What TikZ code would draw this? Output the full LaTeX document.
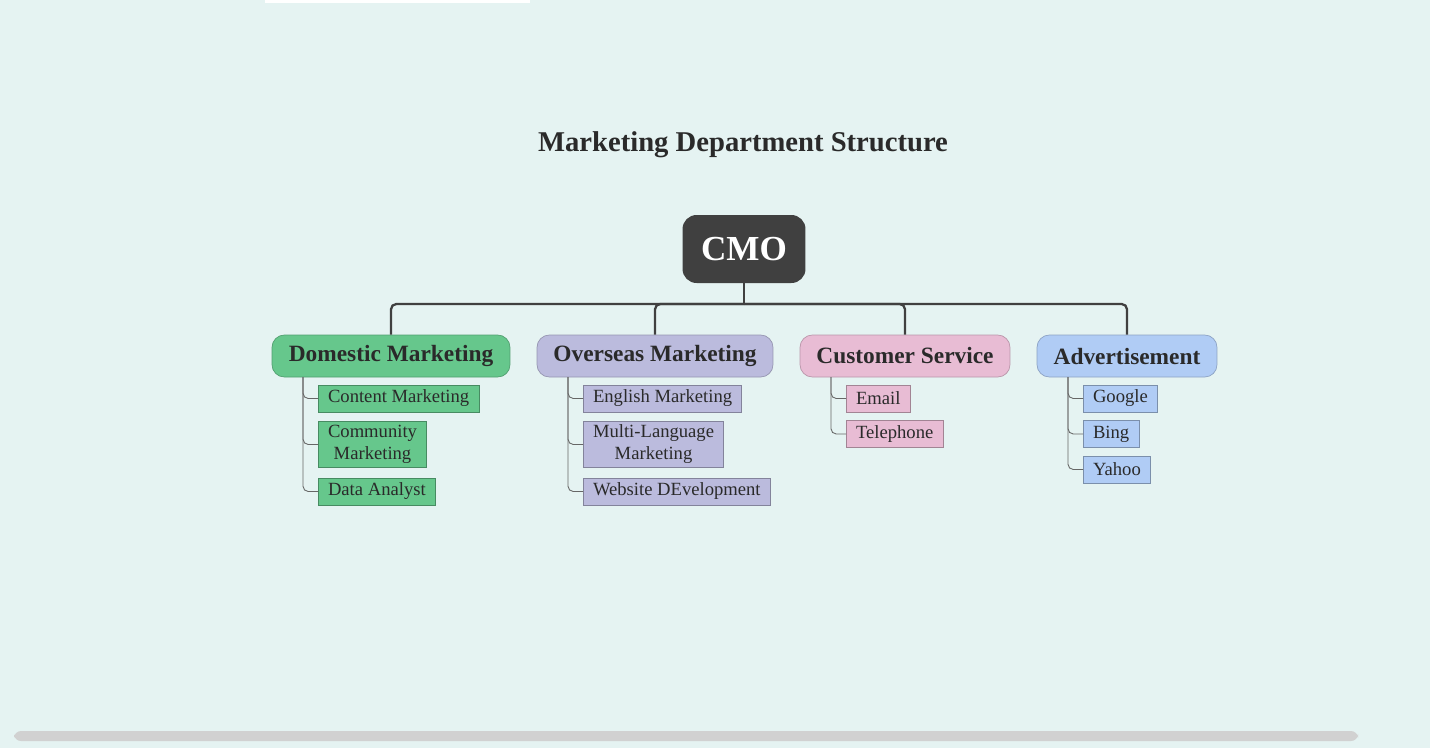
\documentclass[tikz,border=0pt]{standalone}
\usepackage{fontspec}
\setmainfont{Liberation Serif}
\definecolor{bgteal}{HTML}{E5F3F2}
\definecolor{cmogray}{HTML}{404040}
\definecolor{inkgray}{HTML}{2A2A2A}
\definecolor{domgreen}{HTML}{66C78C}
\definecolor{ovslav}{HTML}{BBBBDD}
\definecolor{cuspink}{HTML}{E8BCD4}
\definecolor{advblue}{HTML}{B0CCF5}
\tikzset{
  head/.style={draw=#1!80!black,fill=#1,rounded corners=7pt,font=\fontsize{13.3}{15}\selectfont\bfseries,
    minimum height=0.84cm,inner xsep=8pt,text=inkgray},
  leaf/.style={draw=#1!70!black,fill=#1,anchor=west,font=\fontsize{10.6}{12.5}\selectfont,align=center,
    minimum height=0.54cm,inner xsep=5.5pt,inner ysep=2pt,text=inkgray},
  trunk/.style={draw=cmogray,line width=1.3pt,rounded corners=3pt},
  twig/.style={draw=black!60,line width=0.5pt,rounded corners=3pt}
}
\begin{document}
\begin{tikzpicture}[x=0.02cm,y=-0.02cm]
    \useasboundingbox (0,0) rectangle (1430,748);
    \fill[bgteal] (0,0) rectangle (1430,748);
    \fill[white] (265,0) rectangle (530,3);
    \fill[black!18,rounded corners=4pt] (14,731) rectangle (1358,741);
    \node[text=inkgray] (title) at (743,145) {\fontsize{16.3}{19}\selectfont\bfseries Marketing Department Structure};
    \node[fill=cmogray,rounded corners=8pt,text=white,minimum width=2.46cm,minimum height=1.36cm,
          font=\fontsize{20}{24}\selectfont\bfseries] (cmo) at (744,249) {CMO};
    % second level
    \node[head=domgreen,minimum width=4.76cm] (dom) at (391,356) {Domestic Marketing};
    \node[head=ovslav,minimum width=4.72cm]   (ovs) at (655,356) {Overseas Marketing};
    \node[head=cuspink,minimum width=4.2cm]   (cus) at (905,356) {Customer Service};
    \node[head=advblue,minimum width=3.6cm]   (adv) at (1127,356) {Advertisement};
    \coordinate (hub) at (744,304);
    \draw[trunk] (cmo.south) -- (hub);
    \foreach \h in {dom,ovs,cus,adv}
        \draw[trunk] (hub) -| (\h.north);
    % leaves
    \node[leaf=domgreen] (dom1) at (318,398.5) {Content Marketing};
    \node[leaf=domgreen] (dom2) at (318,444.5) {Community\\Marketing};
    \node[leaf=domgreen] (dom3) at (318,491.5) {Data Analyst};
    \node[leaf=ovslav] (ovs1) at (583,398.5) {English Marketing};
    \node[leaf=ovslav] (ovs2) at (583,444.5) {Multi-Language\\Marketing};
    \node[leaf=ovslav] (ovs3) at (583,491.5) {Website DEvelopment};
    \node[leaf=cuspink] (cus1) at (846,398.5) {Email};
    \node[leaf=cuspink] (cus2) at (846,434) {Telephone};
    \node[leaf=advblue] (adv1) at (1083,398.5) {Google};
    \node[leaf=advblue] (adv2) at (1083,434) {Bing};
    \node[leaf=advblue] (adv3) at (1083,469.5) {Yahoo};
    \coordinate (domt) at (303,377);
    \coordinate (ovst) at (568,377);
    \coordinate (cust) at (831,377);
    \coordinate (advt) at (1068,377);
    \foreach \l in {dom1,dom2,dom3} \draw[twig] (domt) |- (\l.west);
    \foreach \l in {ovs1,ovs2,ovs3} \draw[twig] (ovst) |- (\l.west);
    \foreach \l in {cus1,cus2} \draw[twig] (cust) |- (\l.west);
    \foreach \l in {adv1,adv2,adv3} \draw[twig] (advt) |- (\l.west);
\end{tikzpicture}
\end{document}
